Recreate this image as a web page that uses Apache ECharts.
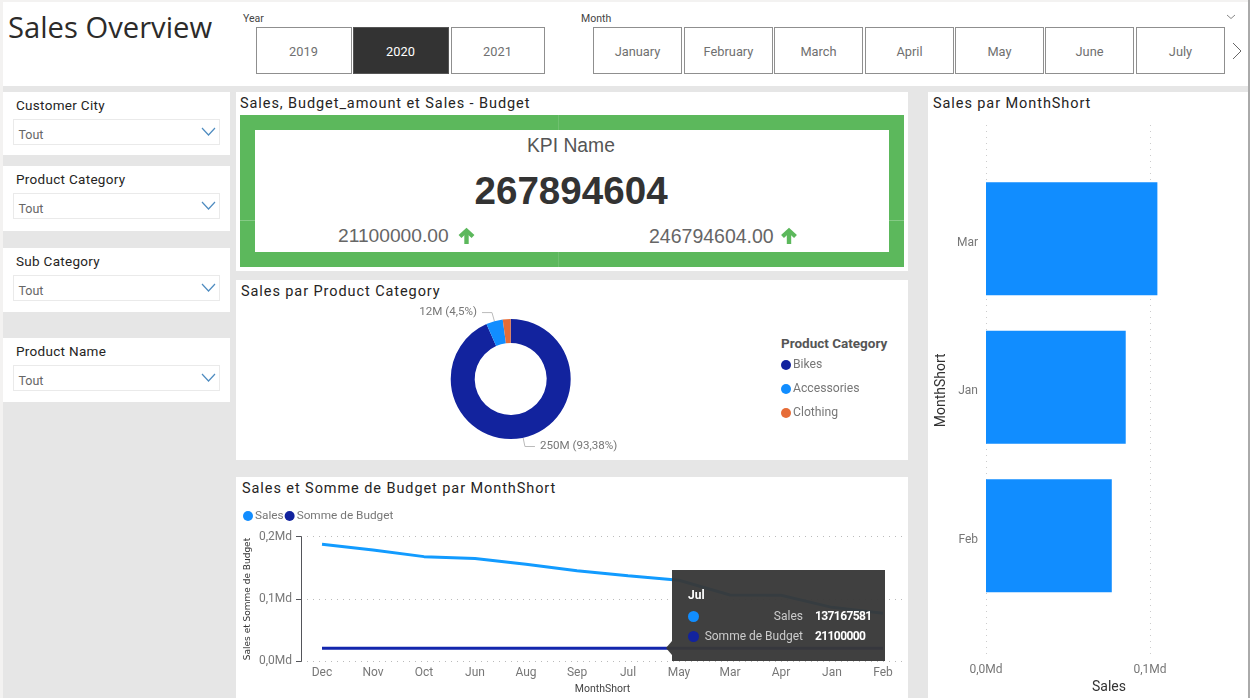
<!DOCTYPE html>
<html>
<head>
<meta charset="utf-8">
<title>Sales Overview</title>
<script src="https://cdn.jsdelivr.net/npm/echarts@6/dist/echarts.min.js"></script>
<style>
html,body{margin:0;padding:0;width:1252px;height:698px;overflow:hidden;background:#e6e6e6;font-family:Roboto,sans-serif}
.box{position:absolute;background:#fff}
.txt{position:absolute;white-space:nowrap;line-height:1}
.ptitle{font-size:14.5px;color:#252423;letter-spacing:.92px}
.btn{position:absolute;box-sizing:border-box;border:1.5px solid #8f8f8f;background:#fff;color:#707070;font-size:12.8px;text-align:center}
.btn.sel{background:#333;border-color:#555;color:#fff}
.drop{position:absolute;box-sizing:border-box;left:13px;width:207px;border:1px solid #eaeaea;background:#fff}
svg{position:absolute;overflow:visible}
</style>
</head>
<body>
<div id="page" style="position:absolute;left:0;top:0"></div>
<div id="donutChart" style="position:absolute;left:236px;top:280px;width:672px;height:180px"></div>
<div id="lineChart" style="position:absolute;left:236px;top:477px;width:672px;height:221px"></div>
<div id="barChart" style="position:absolute;left:928px;top:92px;width:320px;height:606px"></div>
<script>
// slicers
var years = ['2019', '2020', '2021'];
var selectedYear = '2020';
var months = ['January', 'February', 'March', 'April', 'May', 'June', 'July'];
var slicerNames = ['Customer City', 'Product Category', 'Sub Category', 'Product Name'];
var slicerValue = 'Tout';

// KPI card
var kpiName = 'KPI Name';
var kpiValue = '267894604';
var kpiBudget = '21100000.00';
var kpiDiff = '246794604.00';

// donut
var categories = ['Bikes', 'Accessories', 'Clothing'];
var categorySales = [250160000, 12060000, 5680000];

// line chart
var lineMonths = ['Dec', 'Nov', 'Oct', 'Jun', 'Aug', 'Sep', 'Jul', 'May', 'Mar', 'Apr', 'Jan', 'Feb'];
var lineSales = [188000000, 178600000, 168000000, 165000000, 155600000, 145500000, 137167581, 130000000, 106400000, 105900000, 86600000, 77000000];
var lineBudget = [21100000, 21100000, 21100000, 21100000, 21100000, 21100000, 21100000, 21100000, 21100000, 21100000, 21100000, 21100000];

// bar chart
var barMonths = ['Mar', 'Jan', 'Feb'];
var barSales = [104500000, 85200000, 76700000];

var blue = '#118DFF', navy = '#12239E', orange = '#E66C37', green = '#5cb85c';
var page = document.getElementById('page');

function box(x, y, w, h, color) {
    var d = document.createElement('div');
    d.className = 'box';
    d.style.cssText = 'left:' + x + 'px;top:' + y + 'px;width:' + w + 'px;height:' + h + 'px;' + (color ? 'background:' + color : '');
    page.appendChild(d);
    return d;
}
// y is the vertical middle of the text
function text(str, x, y, css, cls) {
    var d = document.createElement('div');
    d.className = 'txt ' + (cls || '');
    d.textContent = str;
    d.style.cssText = 'left:' + x + 'px;top:' + y + 'px;transform:translateY(-50%);' + (css || '');
    page.appendChild(d);
    return d;
}
function button(str, x, w, sel) {
    var d = document.createElement('div');
    d.className = 'btn' + (sel ? ' sel' : '');
    d.textContent = str;
    d.style.cssText = 'left:' + x + 'px;top:27px;width:' + w + 'px;height:47px;line-height:47px';
    page.appendChild(d);
}
function chevron(points, color, width) {
    var s = document.createElementNS('http://www.w3.org/2000/svg', 'svg');
    s.setAttribute('width', 1252);
    s.setAttribute('height', 698);
    s.style.cssText = 'left:0;top:0';
    var p = document.createElementNS('http://www.w3.org/2000/svg', 'polyline');
    p.setAttribute('points', points);
    p.setAttribute('fill', 'none');
    p.setAttribute('stroke', color);
    p.setAttribute('stroke-width', width);
    s.appendChild(p);
    page.appendChild(s);
}

// page edges
box(0, 0, 3, 698, '#f3f2f1');
box(0, 0, 1252, 1.5, '#f3f2f1');
box(1248, 0, 1.5, 698, '#aaa');
box(1249.5, 0, 2.5, 698);

// panels
box(3, 1.5, 1245, 84.5);
box(236, 92, 672, 179);
box(236, 280, 672, 180);
box(236, 477, 672, 221);
box(928, 92, 320, 606);

// header
text('Sales Overview', 8, 27, 'font:400 29.2px "Open Sans",sans-serif;color:#2c2b2a');
text('Year', 243, 18.5, 'font-size:10.5px;color:#444');
text('Month', 581, 18.5, 'font-size:10.5px;color:#444');
var yearX = [255.5, 352.5, 450.5], yearW = [96, 96, 94];
years.forEach(function (y, i) { button(y, yearX[i], yearW[i], y == selectedYear); });
var monthX = [593, 684, 774, 865, 955, 1045, 1136], monthW = [89, 89, 89, 89, 89, 89, 89];
months.forEach(function (m, i) { button(m, monthX[i], monthW[i], false); });
chevron('1233,43 1241,51 1233,59', '#666', 1);
chevron('1227,15 1231,18.5 1235,15', '#888', 1);

// left slicers
var slicerY = [[92, 63, 106, 119], [166, 65, 180, 193], [248, 64, 262, 275], [338, 64, 352, 365]];
slicerNames.forEach(function (name, i) {
    var s = slicerY[i];
    box(3, s[0], 227, s[1]);
    text(name, 16, s[2], 'font-size:13.5px;color:#252423;letter-spacing:.3px');
    var d = document.createElement('div');
    d.className = 'drop';
    d.style.top = s[3] + 'px';
    d.style.height = '26px';
    page.appendChild(d);
    text(slicerValue, 18.5, s[3] + 16, 'font-size:12.5px;color:#666');
    chevron('202,' + (s[3] + 9) + ' 208.5,' + (s[3] + 16) + ' 215,' + (s[3] + 9), '#4f8cc0', 1.2);
});

// KPI card
text('Sales, Budget_amount et Sales - Budget', 240, 104, '', 'ptitle');
box(240, 115, 664, 152, green);
box(255, 130, 634, 122);
box(240, 220, 15, 1, 'rgba(255,255,255,.25)');
box(889, 220, 15, 1, 'rgba(255,255,255,.25)');
box(558, 115, 1, 15, 'rgba(255,255,255,.12)');
box(558, 252, 1, 15, 'rgba(255,255,255,.12)');
var kpiFont = '"Liberation Sans",Arial,sans-serif';
text(kpiName, 527, 145.5, 'font:19.3px ' + kpiFont + ';color:#555');
text(kpiValue, 474.5, 190.5, 'font:bold 38.6px ' + kpiFont + ';color:#333');
text(kpiBudget, 338, 236, 'font:19.2px ' + kpiFont + ';color:#666');
text(kpiDiff, 649, 236, 'font:19.5px ' + kpiFont + ';color:#666');
[466.5, 789].forEach(function (cx) {
    chevron((cx - 6.5) + ',236.5 ' + cx + ',230.5 ' + (cx + 6.5) + ',236.5', green, 4.2);
    chevron(cx + ',231 ' + cx + ',244', green, 4.4);
});

// panel titles
text('Sales par Product Category', 241, 291.5, '', 'ptitle');
text('Sales et Somme de Budget par MonthShort', 242, 488.5, '', 'ptitle');
text('Sales par MonthShort', 933, 103.5, '', 'ptitle');
text('Product Category', 781, 343.5, 'font-size:13.5px;font-weight:700;color:#555');

function mdLabel(v) {
    return (v / 1e9).toFixed(1).replace('.', ',') + 'Md';
}

// donut
var donutChart = echarts.init(document.getElementById('donutChart'));
donutChart.setOption({
    animation: false,
    color: [navy, blue, orange],
    legend: {
        orient: 'vertical',
        left: 540,
        top: 74,
        icon: 'circle',
        itemWidth: 10,
        itemHeight: 10,
        itemGap: 12,
        selectedMode: false,
        textStyle: { color: '#777', fontSize: 12.2, fontFamily: 'Roboto', padding: [0, 0, 0, -3] },
        data: categories
    },
    series: [{
        type: 'pie',
        center: [274.7, 99],
        radius: [36, 60],
        startAngle: 90,
        avoidLabelOverlap: false,
        emphasis: { disabled: true },
        labelLine: { length: 9, length2: 10, lineStyle: { color: '#bbb', width: 1 } },
        label: {
            color: '#777',
            fontSize: 11.6,
            fontFamily: 'Roboto',
            formatter: function (p) {
                var pct = +p.percent.toFixed(2);
                return Math.round(p.value / 1e6) + 'M (' + String(pct).replace('.', ',') + '%)';
            }
        },
        data: categories.map(function (c, i) {
            var item = { name: c, value: categorySales[i] };
            if (c == 'Clothing') {
                item.label = { show: false };
                item.labelLine = { show: false };
            }
            return item;
        })
    }]
});

// line chart, the Jul tooltip stays open
var lineChart = echarts.init(document.getElementById('lineChart'));
function tipHtml(params) {
    var rows = params.map(function (p, i) {
        return '<div style="position:absolute;left:0;top:' + (i ? 57 : 37) + 'px;width:213px;height:18px;line-height:18px">' +
            '<span style="position:absolute;left:16px;top:3.5px;width:11px;height:11px;border-radius:6px;background:' + p.color + '"></span>' +
            '<span style="position:absolute;right:82px;color:#ccc">' + p.seriesName + '</span>' +
            '<span style="position:absolute;left:143px;color:#fff;font-weight:700;letter-spacing:-.6px">' + p.value + '</span></div>';
    }).join('');
    return '<div style="position:relative;width:213px;height:91px;font:12px Roboto,sans-serif">' +
        '<span style="position:absolute;left:-6px;top:71px;border:7px solid transparent;border-left:0;border-right:6px solid rgba(56,56,56,.96)"></span>' +
        '<span style="position:absolute;left:16px;top:18px;color:#fff;font-weight:700">' + params[0].name + '</span>' + rows + '</div>';
}
lineChart.setOption({
    animation: false,
    color: [blue, navy],
    legend: {
        left: 2,
        top: 28,
        icon: 'circle',
        itemWidth: 10,
        itemHeight: 10,
        itemGap: 1,
        selectedMode: false,
        textStyle: { color: '#777', fontSize: 11.8, fontFamily: 'Roboto', padding: [0, 0, 0, -3] }
    },
    tooltip: {
        trigger: 'axis',
        alwaysShowContent: true,
        transitionDuration: 0,
        axisPointer: { type: 'none' },
        backgroundColor: 'rgba(56,56,56,.96)',
        borderWidth: 0,
        padding: 0,
        extraCssText: 'box-shadow:none;border-radius:0;',
        position: function () { return [436, 93]; },
        formatter: tipHtml
    },
    // second grid carries the value axis: its gridlines are narrower than the category bands
    grid: [
        { left: 60.5, width: 612, top: 59.7, height: 124.6, outerBoundsMode: 'none' },
        { left: 65, width: 603, top: 59.7, height: 124.6, outerBoundsMode: 'none' }
    ],
    xAxis: [
        {
            gridIndex: 0,
            type: 'category',
            data: lineMonths,
            name: 'MonthShort',
            nameLocation: 'middle',
            nameGap: 20,
            nameTextStyle: { color: '#444', fontSize: 10.5, fontFamily: 'Roboto' },
            axisLine: { show: false },
            axisTick: { show: false },
            axisLabel: { color: '#777', fontSize: 12, fontFamily: 'Roboto', margin: 6, interval: 0 }
        },
        { gridIndex: 1, type: 'value', show: false }
    ],
    yAxis: [
        { gridIndex: 0, type: 'value', min: 0, max: 200000000, show: false },
        {
            gridIndex: 1,
            type: 'value',
            min: 0,
            max: 200000000,
            interval: 100000000,
            name: 'Sales et Somme de Budget',
            nameLocation: 'middle',
            nameGap: 49,
            nameMoveOverlap: false,
            nameTextStyle: { color: '#333', fontSize: 9, fontFamily: 'DejaVu Sans' },
            axisLabel: { color: '#777', fontSize: 12, fontFamily: 'Roboto', margin: 9, formatter: mdLabel },
            splitLine: { lineStyle: { color: '#bbb', type: [1, 5] } }
        }
    ],
    series: [
        { name: 'Sales', type: 'line', xAxisIndex: 0, yAxisIndex: 0, symbol: 'none', data: lineSales, lineStyle: { width: 3 } },
        { name: 'Somme de Budget', type: 'line', xAxisIndex: 0, yAxisIndex: 0, symbol: 'none', data: lineBudget, lineStyle: { width: 3 } }
    ]
});
lineChart.dispatchAction({ type: 'showTip', seriesIndex: 0, dataIndex: lineMonths.indexOf('Jul') });

// bar chart, the gridlines run longer than the category band so they get their own grid
var barChart = echarts.init(document.getElementById('barChart'));
barChart.setOption({
    animation: false,
    grid: [
        { left: 58, width: 246, top: 72.5, height: 445.5, outerBoundsMode: 'none' },
        { left: 58, width: 246, top: 33, height: 533, outerBoundsMode: 'none' }
    ],
    xAxis: [
        { gridIndex: 0, type: 'value', min: 0, max: 150000000, show: false },
        {
            gridIndex: 1,
            type: 'value',
            min: 0,
            max: 150000000,
            interval: 100000000,
            name: 'Sales',
            nameLocation: 'middle',
            nameGap: 22,
            nameTextStyle: { color: '#333', fontSize: 14, fontFamily: 'Roboto' },
            axisLabel: { color: '#777', fontSize: 12, fontFamily: 'Roboto', margin: 6, showMaxLabel: false, formatter: mdLabel },
            axisLine: { show: false },
            axisTick: { show: false },
            splitLine: { show: true, showMaxLine: false, lineStyle: { color: '#ccc', type: [1, 5] } }
        }
    ],
    yAxis: [
        {
            gridIndex: 0,
            type: 'category',
            inverse: true,
            data: barMonths,
            name: 'MonthShort',
            nameLocation: 'middle',
            nameGap: 38,
            nameMoveOverlap: false,
            nameTextStyle: { color: '#333', fontSize: 14, fontFamily: 'Roboto', padding: [0, 6, 0, 0] },
            axisLabel: { color: '#777', fontSize: 12, fontFamily: 'Roboto', margin: 8, verticalAlign: 'top', lineHeight: 8 },
            axisLine: { show: false },
            axisTick: { show: false }
        },
        { gridIndex: 1, type: 'value', show: false }
    ],
    series: [{
        type: 'bar',
        xAxisIndex: 0,
        yAxisIndex: 0,
        data: barSales,
        barWidth: 113,
        itemStyle: { color: blue }
    }]
});
</script>
</body>
</html>
